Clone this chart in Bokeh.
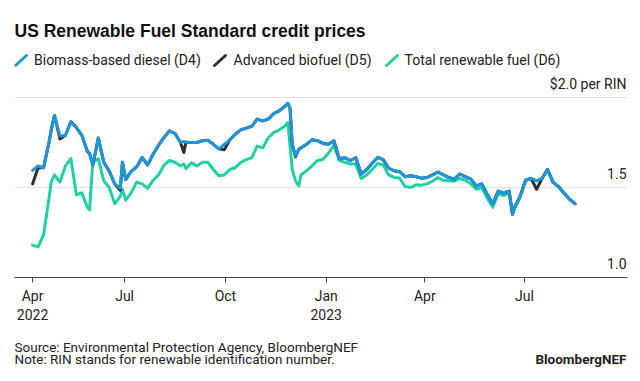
from datetime import datetime
import pandas as pd
from bokeh.plotting import figure
from bokeh.layouts import column
from bokeh.models import Range1d, Label, Arrow, FixedTicker, ColumnDataSource
from bokeh.embed import file_html
from bokeh.resources import INLINE

# ---------------- data ----------------
dates = [
    "2022-04-08", "2022-04-13", "2022-04-18", "2022-04-23", "2022-04-25", "2022-04-28",
    "2022-05-03", "2022-05-08", "2022-05-13", "2022-05-18", "2022-05-23", "2022-05-28",
    "2022-05-30", "2022-06-02", "2022-06-07", "2022-06-12", "2022-06-17", "2022-06-22",
    "2022-06-27", "2022-06-29", "2022-07-02", "2022-07-07", "2022-07-12", "2022-07-17",
    "2022-07-22", "2022-07-27", "2022-08-01", "2022-08-06", "2022-08-11", "2022-08-16",
    "2022-08-21", "2022-08-24", "2022-08-26", "2022-08-31", "2022-09-05", "2022-09-10",
    "2022-09-15", "2022-09-20", "2022-09-25", "2022-09-30", "2022-10-05", "2022-10-10",
    "2022-10-15", "2022-10-20", "2022-10-25", "2022-10-30", "2022-11-04", "2022-11-09",
    "2022-11-14", "2022-11-19", "2022-11-24", "2022-11-27", "2022-11-29", "2022-12-01",
    "2022-12-04", "2022-12-07", "2022-12-09", "2022-12-14", "2022-12-19", "2022-12-24",
    "2022-12-29", "2023-01-03", "2023-01-08", "2023-01-13", "2023-01-18", "2023-01-23",
    "2023-01-28", "2023-02-02", "2023-02-07", "2023-02-12", "2023-02-17", "2023-02-22",
    "2023-02-27", "2023-03-04", "2023-03-09", "2023-03-14", "2023-03-19", "2023-03-24",
    "2023-03-29", "2023-04-03", "2023-04-08", "2023-04-13", "2023-04-18", "2023-04-23",
    "2023-04-28", "2023-05-03", "2023-05-08", "2023-05-13", "2023-05-18", "2023-05-23",
    "2023-05-28", "2023-06-02", "2023-06-07", "2023-06-12", "2023-06-17", "2023-06-20",
    "2023-06-22", "2023-06-27", "2023-07-02", "2023-07-07", "2023-07-12", "2023-07-17",
    "2023-07-22", "2023-07-27", "2023-08-01", "2023-08-06", "2023-08-11", "2023-08-16",
]

d4_biomass_diesel = [
    1.595, 1.62, 1.61, 1.75, 1.82, 1.90,
    1.785, 1.79, 1.865, 1.833, 1.79, 1.70,
    1.69, 1.625, 1.775, 1.64, 1.59, 1.52,
    1.495, 1.64, 1.545, 1.59, 1.615, 1.667,
    1.625, 1.685, 1.735, 1.778, 1.815, 1.80,
    1.75, 1.756, 1.752, 1.75, 1.75, 1.76,
    1.762, 1.74, 1.715, 1.74, 1.765, 1.796,
    1.82, 1.83, 1.84, 1.88, 1.87, 1.88,
    1.91, 1.926, 1.95, 1.967, 1.94, 1.741,
    1.676, 1.713, 1.72, 1.74, 1.765, 1.76,
    1.745, 1.74, 1.76, 1.66, 1.665, 1.65,
    1.665, 1.575, 1.60, 1.635, 1.667, 1.655,
    1.607, 1.593, 1.588, 1.56, 1.565, 1.56,
    1.552, 1.555, 1.57, 1.585, 1.57, 1.555,
    1.547, 1.575, 1.56, 1.547, 1.509, 1.52,
    1.463, 1.41, 1.48, 1.47, 1.48, 1.352,
    1.39, 1.45, 1.54, 1.55, 1.537, 1.55,
    1.60, 1.53, 1.505, 1.47, 1.436, 1.41,
]

d5_advanced_biofuel = [
    1.52, 1.61, 1.61, 1.75, 1.82, 1.90,
    1.77, 1.79, 1.865, 1.833, 1.79, 1.70,
    1.69, 1.625, 1.775, 1.64, 1.59, 1.52,
    1.485, 1.64, 1.545, 1.59, 1.615, 1.667,
    1.625, 1.685, 1.735, 1.778, 1.815, 1.80,
    1.75, 1.694, 1.752, 1.75, 1.75, 1.76,
    1.762, 1.74, 1.715, 1.71, 1.765, 1.796,
    1.82, 1.83, 1.84, 1.88, 1.87, 1.88,
    1.91, 1.926, 1.95, 1.967, 1.94, 1.741,
    1.67, 1.713, 1.72, 1.74, 1.765, 1.76,
    1.745, 1.74, 1.76, 1.66, 1.665, 1.65,
    1.665, 1.575, 1.60, 1.635, 1.667, 1.655,
    1.607, 1.593, 1.588, 1.56, 1.565, 1.56,
    1.552, 1.555, 1.57, 1.585, 1.57, 1.555,
    1.547, 1.575, 1.56, 1.547, 1.509, 1.52,
    1.463, 1.41, 1.48, 1.47, 1.48, 1.352,
    1.39, 1.45, 1.54, 1.55, 1.49, 1.55,
    1.60, 1.53, 1.505, 1.47, 1.436, 1.41,
]

d6_total_renewable = [
    1.18, 1.17, 1.235, 1.44, 1.53, 1.57,
    1.53, 1.62, 1.66, 1.46, 1.47, 1.39,
    1.376, 1.64, 1.66, 1.537, 1.50, 1.41,
    1.45, 1.49, 1.43, 1.47, 1.53, 1.52,
    1.495, 1.54, 1.57, 1.625, 1.65, 1.64,
    1.62, 1.63, 1.605, 1.637, 1.62, 1.64,
    1.64, 1.60, 1.565, 1.57, 1.60, 1.61,
    1.639, 1.655, 1.665, 1.73, 1.72, 1.775,
    1.805, 1.819, 1.84, 1.861, 1.73, 1.60,
    1.537, 1.509, 1.57, 1.593, 1.62, 1.65,
    1.655, 1.69, 1.735, 1.65, 1.64, 1.63,
    1.63, 1.55, 1.57, 1.60, 1.633, 1.625,
    1.57, 1.556, 1.553, 1.505, 1.50, 1.515,
    1.513, 1.52, 1.535, 1.555, 1.54, 1.537,
    1.535, 1.55, 1.54, 1.52, 1.49, 1.50,
    1.44, 1.39, 1.465, 1.455, 1.47, 1.35,
    1.385, 1.45, 1.54, 1.55, 1.537, 1.55,
    1.60, 1.53, 1.505, 1.47, 1.436, 1.41,
]

series_names = ["Biomass-based diesel (D4)", "Advanced biofuel (D5)", "Total renewable fuel (D6)"]

x_tick_dates = ["2022-04-08", "2022-07-01", "2022-10-01", "2023-01-01", "2023-04-01", "2023-07-01"]
x_tick_labels = ["Apr\n2022", "Jul", "Oct", "Jan\n2023", "Apr", "Jul"]

y_grid_values = [1.5, 2.0]
y_label_values = [2.0, 1.5, 1.0]
y_label_texts = ["$2.0 per RIN", "1.5", "1.0"]

title_text = "US Renewable Fuel Standard credit prices"
source_text = "Source: Environmental Protection Agency, BloombergNEF"
note_text = "Note: RIN stands for renewable identification number."
brand_text = "BloombergNEF"

# ---------------- styling ----------------
FONT = "Roboto"
C_D4 = "#1d96da"
C_D5 = "#2f2f2f"
C_D6 = "#22cfa4"
TEXT = "#222222"
W = 640


def blank_fig(height):
    f = figure(width=W, height=height, x_range=Range1d(0, 1), y_range=Range1d(0, 1),
               x_axis_location=None, y_axis_location=None, min_border=0,
               toolbar_location=None, output_backend="svg")
    f.outline_line_color = None
    f.xgrid.visible = False
    f.ygrid.visible = False
    return f


# ---------------- header: title + legend ----------------
header = blank_fig(70)
header.add_layout(Label(x=0, y=39.5, x_units="screen", y_units="screen", text=title_text,
                        text_font="Liberation Sans", text_font_style="bold",
                        text_font_size="17.5px", text_color="#111111",
                        text_baseline="alphabetic"))
legend_icon_x = [1, 200, 372]
legend_text_x = [19.5, 219, 390]
for ix, tx, name, color in zip(legend_icon_x, legend_text_x, series_names, [C_D4, C_D5, C_D6]):
    header.add_layout(Arrow(x_start=ix, y_start=5, x_end=ix + 11, y_end=15,
                            start_units="screen", end_units="screen", end=None,
                            line_color=color, line_width=3, line_cap="round"))
    header.add_layout(Label(x=tx, y=11, x_units="screen", y_units="screen", text=name,
                            text_font=FONT, text_font_size="14px", text_color=TEXT,
                            text_baseline="alphabetic"))

# ---------------- main chart ----------------
src = ColumnDataSource(dict(
    date=pd.to_datetime(dates),
    d4=d4_biomass_diesel,
    d5=d5_advanced_biofuel,
    d6=d6_total_renewable,
))

p = figure(
    width=W, height=260,
    x_axis_type="datetime",
    y_axis_location=None,
    x_range=Range1d(datetime(2022, 3, 22, 12), datetime(2023, 10, 3)),
    y_range=Range1d(1.0, 1.0 + 207 / 180),
    toolbar_location=None,
    output_backend="svg",
    min_border_left=14, min_border_right=13,
    min_border_top=0, min_border_bottom=53,
)
p.outline_line_color = None
p.xgrid.visible = False
p.ygrid.ticker = FixedTicker(ticks=y_grid_values)
p.ygrid.grid_line_color = "#e2e2e2"
p.ygrid.grid_line_width = 1

tick_ms = [pd.Timestamp(d).value // 10**6 for d in x_tick_dates]
ax = p.xaxis[0]
ax.ticker = FixedTicker(ticks=tick_ms, minor_ticks=[])
ax.major_label_overrides = {t: lab for t, lab in zip(tick_ms, x_tick_labels)}
ax.axis_line_color = "#444444"
ax.axis_line_width = 1
ax.major_tick_line_color = "#444444"
ax.major_tick_in = 0
ax.major_tick_out = 5
ax.minor_tick_line_color = None
ax.major_label_text_font = FONT
ax.major_label_text_font_size = "14px"
ax.major_label_text_color = TEXT
ax.major_label_standoff = 5

for col, color in (("d6", C_D6), ("d5", C_D5), ("d4", C_D4)):
    p.line(x="date", y=col, source=src, line_color=color, line_width=3,
           line_join="round", line_cap="round")

for v, t in zip(y_label_values, y_label_texts):
    p.add_layout(Label(x=612, x_units="screen", y=v, y_units="data", y_offset=14,
                       text=t, text_align="right", text_baseline="alphabetic",
                       text_font=FONT, text_font_size="14px", text_color=TEXT))

# ---------------- footer ----------------
footer = blank_fig(51)
footer.add_layout(Label(x=0, y=35, x_units="screen", y_units="screen", text=source_text,
                        text_font=FONT, text_font_size="13.5px", text_color=TEXT,
                        text_baseline="alphabetic"))
footer.add_layout(Label(x=0, y=23, x_units="screen", y_units="screen", text=note_text,
                        text_font=FONT, text_font_size="13.5px", text_color=TEXT,
                        text_baseline="alphabetic"))
footer.add_layout(Label(x=612, y=23, x_units="screen", y_units="screen", text=brand_text,
                        text_font=FONT, text_font_style="bold", text_font_size="13.5px",
                        text_color=TEXT, text_align="right", text_baseline="alphabetic"))

layout = column(header, p, footer, spacing=0)
open("out.html", "w").write(file_html(layout, INLINE))
